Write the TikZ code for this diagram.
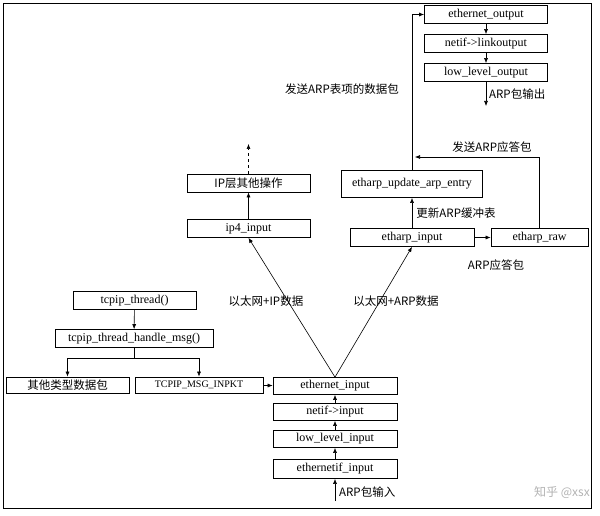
\documentclass[tikz,border=0pt]{standalone}
\usepackage{fontspec}
\setmainfont{Liberation Serif}
\newfontfamily\cjk{Noto Sans CJK SC}
\usetikzlibrary{arrows.meta}
\begin{document}
\begin{tikzpicture}[x=1pt,y=-1pt,
  box/.style={draw,line width=0.7pt,minimum height=18pt,inner sep=0pt,font=\fontsize{12}{13}\selectfont},
  lbl/.style={font=\cjk\fontsize{11.5}{12}\selectfont,inner sep=0pt},
  ar/.style={-{Latex[length=5pt,width=4pt]},line width=0.6pt},
  ln/.style={line width=0.6pt}]
\useasboundingbox (0,0) rectangle (600,516);
\draw[line width=1pt] (3,4) rectangle (591,508);
% output chain
\node[box,minimum width=123pt] (eo) at (486,14.5) {ethernet\_output};
\node[box,minimum width=123pt] (lo) at (486,43.5) {netif->linkoutput};
\node[box,minimum width=123pt] (llo) at (486,72.5) {low\_level\_output};
\coordinate (outend) at (486,106);
\draw[ar] (eo) -- (lo);
\draw[ar] (lo) -- (llo);
\draw[ar] (llo) -- (outend);
\node[lbl,anchor=west] at (489,94) {ARP包输出};
\node[lbl] at (342,89) {发送ARP表项的数据包};
% arp
\node[box,minimum width=141pt,minimum height=27pt] (upd) at (412,184) {etharp\_update\_arp\_entry};
\node[box,minimum width=124pt] (ein) at (412,237.5) {etharp\_input};
\node[box,minimum width=97pt] (raw) at (539.5,237.5) {etharp\_raw};
\draw[ar] (upd.north) -- (412,14.5) -- (eo.west);
\draw[ar] (raw.north) -- (539.5,157) -- (415,157);
\node[lbl] at (492,147) {发送ARP应答包};
\draw[ar] (ein) -- (upd);
\node[lbl] at (456,213) {更新ARP缓冲表};
\draw[ar] (ein) -- (raw);
\node[lbl] at (496,265) {ARP应答包};
% ip
\node[box,minimum width=123pt] (ipo) at (248.5,183) {\cjk\fontsize{11.5}{12}\selectfont IP层其他操作};
\node[box,minimum width=123pt] (ip4) at (248.5,228.5) {ip4\_input};
\coordinate (dend) at (248.5,144);
\draw[ar] (ip4) -- (ipo);
\draw[ar,dashed] (ipo) -- (dend);
% input chain
\node[box,minimum width=124pt,minimum height=17pt] (etin) at (335,386) {ethernet\_input};
\node[box,minimum width=124pt,minimum height=17pt] (nin) at (335,412) {netif->input};
\node[box,minimum width=124pt,minimum height=17pt] (lli) at (335,439) {low\_level\_input};
\node[box,minimum width=124pt,minimum height=19pt] (efi) at (335,469) {ethernetif\_input};
\coordinate (inst) at (335,501);
\draw[ar] (inst) -- (efi);
\draw[ar] (efi) -- (lli);
\draw[ar] (lli) -- (nin);
\draw[ar] (nin) -- (etin);
\node[lbl,anchor=west] at (339,492) {ARP包输入};
\draw[ar] (etin.north) -- (ip4.south);
\draw[ar] (etin.north) -- (ein.south);
\node[lbl] at (266,301) {以太网+IP数据};
\node[lbl] at (396,301) {以太网+ARP数据};
% tcpip
\node[box,minimum width=123pt] (tt) at (134.5,300.5) {tcpip\_thread()};
\node[box,minimum width=158pt] (th) at (134,338.5) {tcpip\_thread\_handle\_msg()};
\node[box,minimum width=123pt,minimum height=16pt] (oth) at (67.5,385) {\cjk\fontsize{11.5}{12}\selectfont 其他类型数据包};
\node[box,minimum width=128pt,minimum height=16pt,font=\fontsize{10}{11}\selectfont] (inp) at (199,385) {TCPIP\_MSG\_INPKT};
\draw[ar] (tt) -- (th);
\draw[ln] (th.south) -- (134,358);
\draw[ar] (67.5,358) -- (oth.north);
\draw[ar] (199,358) -- (inp.north);
\draw[ln] (67.5,358) -- (199,358);
\draw[ar] (inp) -- (etin);
\node[font=\cjk\fontsize{12}{14}\selectfont,text=gray!60] at (562,492) {知乎 @xsx};
\end{tikzpicture}
\end{document}
